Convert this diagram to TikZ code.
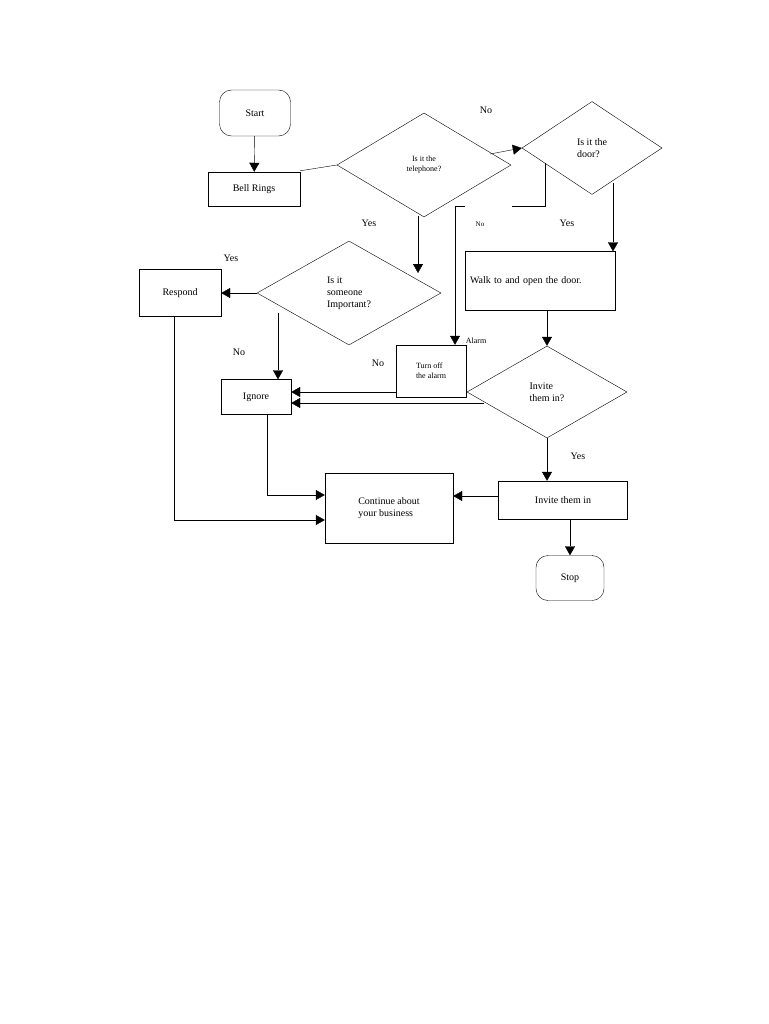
\documentclass[tikz,border=0pt]{standalone}
\usepackage{fontspec}
\setmainfont{Liberation Serif}
\usetikzlibrary{shapes.geometric,arrows.meta}
\begin{document}
\begin{tikzpicture}[x=1pt,y=-1pt,font=\fontsize{10}{12}\selectfont,
  box/.style={draw,rectangle,inner sep=0pt},
  term/.style={draw,rounded corners=12pt,inner sep=0pt},
  dec/.style={draw,diamond,inner sep=0pt},
  lbl/.style={inner sep=0pt},
  arr/.style={-{Triangle[length=9pt,width=10pt]}}]
  \useasboundingbox (0,0) rectangle (768,1024);

  % Knoten
  \node[term,minimum width=71pt,minimum height=46pt] (start) at (255,113) {Start};
  \node[box,minimum width=92pt,minimum height=34pt] (bell) at (254,189) {Bell Rings};
  \node[dec,minimum width=174pt,minimum height=104pt,font=\fontsize{8}{10}\selectfont,align=center] (tel) at (424,165) {Is it the\\telephone?};
  \node[dec,minimum width=140pt,minimum height=93pt,align=left] (door) at (592,148) {Is it the\\door?};
  \node[box,minimum width=150pt,minimum height=59pt,text width=140pt,align=left] (walk) at (540,281) {Walk to and open the door.};
  \node[dec,minimum width=184pt,minimum height=104pt,align=left] (imp) at (349,293) {Is it\\someone\\Important?};
  \node[box,minimum width=82pt,minimum height=47pt] (resp) at (180,293) {Respond};
  \node[box,minimum width=70pt,minimum height=52pt,font=\fontsize{8}{10}\selectfont,align=left] (alarm) at (431,371) {Turn off\\the alarm};
  \node[dec,minimum width=160pt,minimum height=92pt,align=left] (inv) at (547,392) {Invite\\them in?};
  \node[box,minimum width=70pt,minimum height=35pt] (ign) at (256,397) {Ignore};
  \node[box,minimum width=128pt,minimum height=70pt,align=left] (cont) at (389,508) {Continue about\\your business};
  \node[box,minimum width=129pt,minimum height=38pt] (invb) at (563,500) {Invite them in};
  \node[term,minimum width=68pt,minimum height=45pt] (stop) at (570,578) {Stop};

  % Verbindungen
  \draw[arr] (start) -- (bell);
  \draw (bell.north east) ++(0,-1) -- (tel.west);
  \draw[arr] (tel.east) ++(-21,-11) -- (door.west);
  \draw[arr] (418,216) -- (418,273);
  \coordinate (dn) at (545,163);
  \draw (dn) -- (545,206) -- (512,206);
  \draw[arr] (465,206) -- (455,206) -- (alarm.north -| 455,0);
  \draw[arr] (613,183) -- (walk.north east -| 613,0);
  \draw[arr] (walk.south -| inv.north) -- (inv.north);
  \draw[arr] (imp.west) -- (resp.east);
  \draw[arr] (278,313) -- (ign.north -| 278,0);
  \draw[arr] (alarm.west |- 0,392) -- (ign.east |- 0,392);
  \draw[arr] (484,403) -- (ign.east |- 0,403);
  \draw[arr] (ign.south -| 267,0) |- (cont.west |- 0,495);
  \draw[arr] (resp.south -| 174,0) |- (cont.west |- 0,520);
  \draw[arr] (inv.south) -- (invb.north -| inv.south);
  \draw[arr] (invb.west |- 0,496) -- (cont.east |- 0,496);
  \draw[arr] (invb.south -| stop.north) -- (stop.north);

  % Beschriftungen
  \node[lbl] (l1) at (486,110) {No};
  \node[lbl] (l2) at (369,223) {Yes};
  \node[lbl,font=\fontsize{7}{8}\selectfont] (l3) at (480,224) {No};
  \node[lbl] (l4) at (567,223) {Yes};
  \node[lbl] (l5) at (231,258) {Yes};
  \node[lbl] (l6) at (239,352) {No};
  \node[lbl] (l7) at (378,363) {No};
  \node[lbl,font=\fontsize{8}{10}\selectfont] (l8) at (476,341) {Alarm};
  \node[lbl] (l9) at (578,456) {Yes};
\end{tikzpicture}
\end{document}
